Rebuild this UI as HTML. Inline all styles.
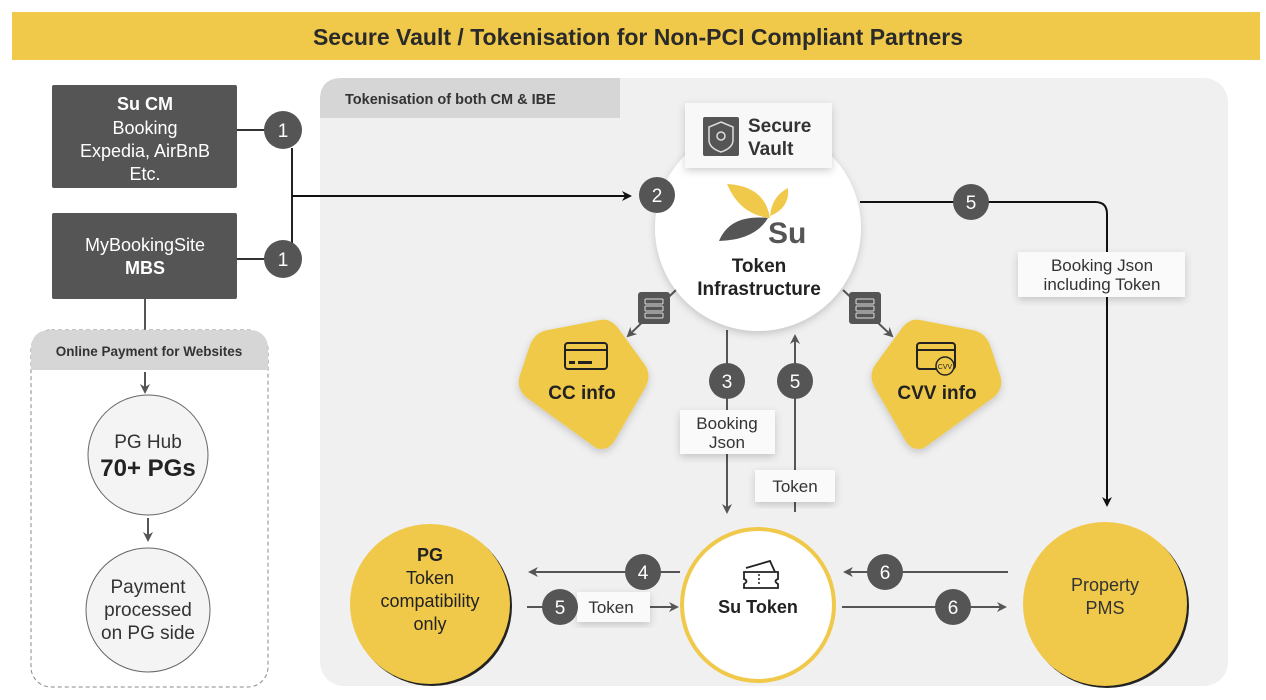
<!DOCTYPE html>
<html><head><meta charset="utf-8"><style>
html,body{margin:0;padding:0;background:#fff;}
svg{display:block;}
text{font-family:"Liberation Sans",sans-serif;}
</style></head><body>
<svg width="1266" height="700" viewBox="0 0 1266 700" xmlns="http://www.w3.org/2000/svg">
<defs>
<marker id="ah" markerWidth="10" markerHeight="10" refX="8" refY="5" orient="auto" markerUnits="userSpaceOnUse"><path d="M0,0 L10,5 L0,10 L3,5 Z" fill="#111"/></marker>
<marker id="ag" markerWidth="10" markerHeight="10" refX="8" refY="5" orient="auto" markerUnits="userSpaceOnUse"><path d="M0,0 L10,5 L0,10 L3,5 Z" fill="#555"/></marker>
<filter id="sh" x="-20%" y="-20%" width="140%" height="140%"><feDropShadow dx="0" dy="3" stdDeviation="4" flood-color="#000" flood-opacity="0.18"/></filter>
</defs>
<!-- title -->
<rect x="12" y="12" width="1248" height="48" fill="#F0C94A"/>
<text x="638" y="45" text-anchor="middle" font-size="23" font-weight="bold" fill="#2a2a2a">Secure Vault / Tokenisation for Non-PCI Compliant Partners</text>

<!-- left boxes -->
<rect x="52" y="85" width="185" height="103" rx="2" fill="#555"/>
<text x="145" y="110" text-anchor="middle" font-size="18" font-weight="bold" fill="#fff">Su CM</text>
<text x="145" y="134" text-anchor="middle" font-size="18" fill="#fff">Booking</text>
<text x="145" y="157" text-anchor="middle" font-size="18" fill="#fff">Expedia, AirBnB</text>
<text x="145" y="180" text-anchor="middle" font-size="18" fill="#fff">Etc.</text>
<rect x="52" y="213" width="185" height="86" rx="2" fill="#555"/>
<text x="145" y="251" text-anchor="middle" font-size="18" fill="#fff">MyBookingSite</text>
<text x="145" y="274" text-anchor="middle" font-size="18" font-weight="bold" fill="#fff">MBS</text>

<line x1="237" y1="130" x2="270" y2="130" stroke="#333" stroke-width="2"/>
<line x1="237" y1="259" x2="270" y2="259" stroke="#333" stroke-width="2"/>
<line x1="292" y1="148" x2="292" y2="243" stroke="#222" stroke-width="2"/>
<circle cx="283" cy="130" r="19" fill="#555"/><text x="283" y="137" text-anchor="middle" font-size="19" fill="#fff">1</text>
<circle cx="283" cy="259" r="19" fill="#555"/><text x="283" y="266" text-anchor="middle" font-size="19" fill="#fff">1</text>

<!-- dashed box -->
<line x1="145" y1="299" x2="145" y2="330" stroke="#555" stroke-width="2"/>
<rect x="31" y="330" width="237" height="357" rx="20" fill="#fff" stroke="#888" stroke-dasharray="4,3"/>
<path d="M31,370 L31,350 Q31,330 51,330 L248,330 Q268,330 268,350 L268,370 Z" fill="#d6d6d6"/>
<text x="149" y="356" text-anchor="middle" font-size="13.5" font-weight="bold" fill="#333">Online Payment for Websites</text>
<line x1="145" y1="372" x2="145" y2="392" stroke="#555" stroke-width="2" marker-end="url(#ag)"/>
<circle cx="148" cy="455" r="60" fill="#f4f4f4" stroke="#666" stroke-width="1"/>
<text x="148" y="448" text-anchor="middle" font-size="19" fill="#333">PG Hub</text>
<text x="148" y="476" text-anchor="middle" font-size="24" font-weight="bold" fill="#222">70+ PGs</text>
<line x1="148" y1="518" x2="148" y2="540" stroke="#555" stroke-width="2" marker-end="url(#ag)"/>
<circle cx="148" cy="610" r="62" fill="#f4f4f4" stroke="#666" stroke-width="1"/>
<text x="148" y="593" text-anchor="middle" font-size="19" fill="#333">Payment</text>
<text x="148" y="616" text-anchor="middle" font-size="19" fill="#333">processed</text>
<text x="148" y="639" text-anchor="middle" font-size="19" fill="#333">on PG side</text>

<!-- big panel -->
<rect x="320" y="78" width="908" height="608" rx="24" fill="#f0f0f0"/>
<path d="M320,118 L320,100 Q320,78 342,78 L620,78 L620,118 Z" fill="#d6d6d6"/>
<text x="345" y="104" font-size="14.5" font-weight="bold" fill="#333">Tokenisation of both CM &amp; IBE</text>

<line x1="292" y1="196" x2="630" y2="196" stroke="#111" stroke-width="2" marker-end="url(#ah)"/>

<!-- arrows from token infra -->
<path d="M860,202 L1095,202 Q1107,202 1107,214 L1107,505" fill="none" stroke="#111" stroke-width="2" marker-end="url(#ah)"/>
<line x1="727" y1="330" x2="727" y2="512" stroke="#555" stroke-width="2" marker-end="url(#ag)"/>
<line x1="795" y1="512" x2="795" y2="336" stroke="#555" stroke-width="2" marker-end="url(#ag)"/>
<line x1="680" y1="572" x2="530" y2="572" stroke="#555" stroke-width="2" marker-end="url(#ag)"/>
<line x1="527" y1="607" x2="677" y2="607" stroke="#555" stroke-width="2" marker-end="url(#ag)"/>
<line x1="1008" y1="572" x2="845" y2="572" stroke="#555" stroke-width="2" marker-end="url(#ag)"/>
<line x1="842" y1="607" x2="1005" y2="607" stroke="#555" stroke-width="2" marker-end="url(#ag)"/>
<line x1="676" y1="290" x2="628" y2="336" stroke="#555" stroke-width="2" marker-end="url(#ag)"/>
<line x1="843" y1="290" x2="892" y2="336" stroke="#555" stroke-width="2" marker-end="url(#ag)"/>

<!-- token infra circle -->
<circle cx="758" cy="228" r="103" fill="#fff" filter="url(#sh)"/>
<rect x="685" y="103" width="147" height="65" fill="#f8f8f8" filter="url(#sh)"/>
<rect x="703" y="117" width="36" height="39" rx="2" fill="#555"/>
<path d="M721,122 L733,127 L733,140 Q733,148 721,152 Q709,148 709,140 L709,127 Z" fill="none" stroke="#ddd" stroke-width="1.5"/>
<circle cx="721" cy="136" r="4" fill="none" stroke="#ddd" stroke-width="1.5"/>
<text x="748" y="132" font-size="19" font-weight="bold" fill="#333">Secure</text>
<text x="748" y="155" font-size="19" font-weight="bold" fill="#333">Vault</text>
<!-- logo -->
<path d="M727,184 Q765,186 770,218 Q740,215 727,184 Z" fill="#F0C94A"/>
<path d="M788,188 Q790,208 770,216 Q772,196 788,188 Z" fill="#F0C94A"/>
<path d="M719,241 Q730,214 768,218 Q755,240 719,241 Z" fill="#555"/>
<text x="768" y="243" font-family="Liberation Serif,serif" font-size="30" font-weight="bold" fill="#555">Su</text>
<text x="759" y="272" text-anchor="middle" font-size="19" font-weight="bold" fill="#222">Token</text>
<text x="759" y="295" text-anchor="middle" font-size="19" font-weight="bold" fill="#222">Infrastructure</text>

<circle cx="657" cy="195" r="18" fill="#555"/><text x="657" y="202" text-anchor="middle" font-size="19" fill="#fff">2</text>
<circle cx="971" cy="202" r="18" fill="#555"/><text x="971" y="209" text-anchor="middle" font-size="19" fill="#fff">5</text>
<rect x="1018" y="252" width="167" height="45" fill="#fafafa" filter="url(#sh)"/>
<text x="1102" y="271" text-anchor="middle" font-size="17" fill="#333">Booking Json</text>
<text x="1102" y="290" text-anchor="middle" font-size="17" fill="#333">including Token</text>

<!-- server icons -->
<g>
<rect x="638" y="292" width="32" height="32" rx="3" fill="#555"/>
<rect x="645" y="299" width="18" height="5" rx="1" fill="none" stroke="#ddd"/><rect x="645" y="306" width="18" height="5" rx="1" fill="none" stroke="#ddd"/><rect x="645" y="313" width="18" height="5" rx="1" fill="none" stroke="#ddd"/>
<rect x="849" y="292" width="32" height="32" rx="3" fill="#555"/>
<rect x="856" y="299" width="18" height="5" rx="1" fill="none" stroke="#ddd"/><rect x="856" y="306" width="18" height="5" rx="1" fill="none" stroke="#ddd"/><rect x="856" y="313" width="18" height="5" rx="1" fill="none" stroke="#ddd"/>
</g>

<!-- CC / CVV blobs -->
<path d="M600,320 Q610,318 618,328 L645,365 Q652,376 645,388 L615,440 Q608,452 596,448 L530,400 Q515,390 520,375 L530,345 Q535,332 548,330 Z" fill="#F0C94A" filter="url(#sh)"/>
<rect x="565" y="343" width="42" height="26" rx="3" fill="none" stroke="#222" stroke-width="2"/>
<line x1="565" y1="350" x2="607" y2="350" stroke="#222" stroke-width="2"/>
<rect x="569" y="361" width="6" height="3" fill="#222"/><rect x="578" y="361" width="14" height="3" fill="#222"/>
<text x="582" y="399" text-anchor="middle" font-size="19" font-weight="bold" fill="#222">CC info</text>
<path d="M920,320 Q910,318 902,328 L875,365 Q868,376 875,388 L905,440 Q912,452 924,448 L990,400 Q1005,390 1000,375 L990,345 Q985,332 972,330 Z" fill="#F0C94A" filter="url(#sh)"/>
<rect x="917" y="343" width="38" height="26" rx="3" fill="none" stroke="#222" stroke-width="2"/>
<line x1="917" y1="350" x2="955" y2="350" stroke="#222" stroke-width="2"/>
<circle cx="945" cy="366" r="9" fill="#F0C94A" stroke="#222" stroke-width="1.5"/>
<text x="945" y="369" text-anchor="middle" font-size="7" fill="#222">CVV</text>
<text x="937" y="399" text-anchor="middle" font-size="19" font-weight="bold" fill="#222">CVV info</text>

<!-- mid labels -->
<circle cx="727" cy="381" r="18" fill="#555"/><text x="727" y="388" text-anchor="middle" font-size="19" fill="#fff">3</text>
<circle cx="795" cy="381" r="18" fill="#555"/><text x="795" y="388" text-anchor="middle" font-size="19" fill="#fff">5</text>
<rect x="680" y="410" width="95" height="44" fill="#fafafa" filter="url(#sh)"/>
<text x="727" y="429" text-anchor="middle" font-size="17" fill="#333">Booking</text>
<text x="727" y="448" text-anchor="middle" font-size="17" fill="#333">Json</text>
<rect x="755" y="470" width="80" height="32" fill="#fafafa" filter="url(#sh)"/>
<text x="795" y="492" text-anchor="middle" font-size="17" fill="#333">Token</text>

<!-- bottom circles -->
<circle cx="432" cy="606" r="80" fill="#222"/>
<circle cx="430" cy="604" r="80" fill="#F0C94A"/>
<text x="430" y="561" text-anchor="middle" font-size="18" font-weight="bold" fill="#222">PG</text>
<text x="430" y="584" text-anchor="middle" font-size="18" fill="#222">Token</text>
<text x="430" y="607" text-anchor="middle" font-size="18" fill="#222">compatibility</text>
<text x="430" y="630" text-anchor="middle" font-size="18" fill="#222">only</text>

<circle cx="758" cy="605" r="76" fill="#fff" stroke="#F0C94A" stroke-width="4"/>
<path d="M746,568 L770,561 L775,572" fill="none" stroke="#222" stroke-width="1.8"/>
<path d="M744,572 L778,572 L778,579 Q773,581 778,584 L778,588 L744,588 L744,584 Q749,581 744,579 Z" fill="none" stroke="#222" stroke-width="1.8"/>
<line x1="759" y1="574" x2="759" y2="586" stroke="#222" stroke-width="1.5" stroke-dasharray="2,2"/>
<text x="758" y="613" text-anchor="middle" font-size="18" font-weight="bold" fill="#222">Su Token</text>

<circle cx="1107" cy="606" r="82" fill="#222"/>
<circle cx="1105" cy="604" r="82" fill="#F0C94A"/>
<text x="1105" y="591" text-anchor="middle" font-size="18" fill="#333">Property</text>
<text x="1105" y="614" text-anchor="middle" font-size="18" fill="#333">PMS</text>

<circle cx="643" cy="572" r="18" fill="#555"/><text x="643" y="579" text-anchor="middle" font-size="19" fill="#fff">4</text>
<rect x="577" y="592" width="73" height="30" fill="#fafafa" filter="url(#sh)"/>
<text x="611" y="613" text-anchor="middle" font-size="17" fill="#333">Token</text>
<circle cx="560" cy="607" r="18" fill="#555"/><text x="560" y="614" text-anchor="middle" font-size="19" fill="#fff">5</text>
<circle cx="885" cy="572" r="18" fill="#555"/><text x="885" y="579" text-anchor="middle" font-size="19" fill="#fff">6</text>
<circle cx="953" cy="607" r="18" fill="#555"/><text x="953" y="614" text-anchor="middle" font-size="19" fill="#fff">6</text>
</svg>
</body></html>
